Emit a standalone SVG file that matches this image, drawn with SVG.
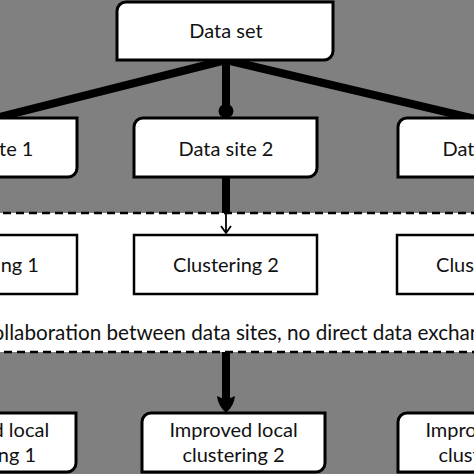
<svg xmlns="http://www.w3.org/2000/svg" width="474" height="474" viewBox="0 0 474 474">
<style>
.bg{fill:#808080}
.band{fill:#ffffff;stroke:#000;stroke-width:2.5;stroke-dasharray:8 5}
.rbox{fill:#fff;stroke:#000;stroke-width:3}
.sbox{fill:#fff;stroke:#000;stroke-width:2.5}
.t{font-family:Lato,"Open Sans","Liberation Sans",sans-serif;font-size:20px;fill:#111;text-anchor:middle}
.thick{stroke:#000;stroke-width:8;fill:none}
.thin{stroke:#000;stroke-width:1.8;fill:none}
</style>
<rect class="bg" x="0" y="0" width="474" height="474"/>
<rect class="band" x="-10" y="213" width="494" height="139"/>
<g id="connectors">
  <line class="thick" x1="226" y1="60" x2="-12" y2="120"/>
  <line class="thick" x1="226" y1="60" x2="484" y2="121"/>
  <line class="thick" x1="226" y1="58" x2="226" y2="110"/>
  <ellipse cx="226" cy="111" rx="7.5" ry="7" fill="#000"/>
  <line class="thick" x1="226" y1="177" x2="226" y2="213"/>
  <line class="thin" x1="226" y1="213" x2="226" y2="233"/>
  <polyline class="thin" points="221,226 226,233 231,226"/>
  <line class="thick" x1="226" y1="352" x2="226" y2="400"/>
  <path d="M217,396 Q226,401 235,396 Q234,406 226,413 Q218,406 217,396 Z" fill="#000"/>
</g>
<g id="data-set">
  <path class="rbox" d="M126,2 H333 V51 A9,9 0 0 1 324,60 H117 V11 A9,9 0 0 1 126,2 Z"/>
  <text class="t" x="226" y="38">Data set</text>
</g>
<g id="data-site-1">
  <path class="rbox" d="M-97,118 H77 V168 A9,9 0 0 1 68,177 H-106 V127 A9,9 0 0 1 -97,118 Z"/>
  <text class="t" x="-14" y="156">Data site 1</text>
</g>
<g id="data-site-2">
  <path class="rbox" d="M143,118 H317 V168 A9,9 0 0 1 308,177 H134 V127 A9,9 0 0 1 143,118 Z"/>
  <text class="t" x="226" y="156">Data site 2</text>
</g>
<g id="data-site-3">
  <path class="rbox" d="M407,118 H581 V168 A9,9 0 0 1 572,177 H398 V127 A9,9 0 0 1 407,118 Z"/>
  <text class="t" x="490" y="156">Data site 3</text>
</g>
<g id="clustering-1">
  <rect class="sbox" x="-106" y="235" width="183" height="59"/>
  <text class="t" x="-14" y="272">Clustering 1</text>
</g>
<g id="clustering-2">
  <rect class="sbox" x="134" y="235" width="183" height="59"/>
  <text class="t" x="226" y="272">Clustering 2</text>
</g>
<g id="clustering-3">
  <rect class="sbox" x="397" y="235" width="183" height="59"/>
  <text class="t" x="489" y="272">Clustering 3</text>
</g>
<g id="collaboration">
  <text class="t" x="-21" y="340" style="text-anchor:start;font-size:20.7px">Collaboration between data sites, no direct data exchange</text>
</g>
<g id="improved-1">
  <path class="rbox" d="M-98,413 H76 V463 A9,9 0 0 1 67,472 H-107 V422 A9,9 0 0 1 -98,413 Z"/>
  <text class="t" x="-15" y="437">Improved local</text>
  <text class="t" x="-15" y="462">clustering 1</text>
</g>
<g id="improved-2">
  <path class="rbox" d="M151,413 H325 V463 A9,9 0 0 1 316,472 H142 V422 A9,9 0 0 1 151,413 Z"/>
  <text class="t" x="233.5" y="437">Improved local</text>
  <text class="t" x="233.5" y="462">clustering 2</text>
</g>
<g id="improved-3">
  <path class="rbox" d="M407,413 H581 V463 A9,9 0 0 1 572,472 H398 V422 A9,9 0 0 1 407,413 Z"/>
  <text class="t" x="489.5" y="437">Improved local</text>
  <text class="t" x="489.5" y="462">clustering 3</text>
</g>
</svg>
